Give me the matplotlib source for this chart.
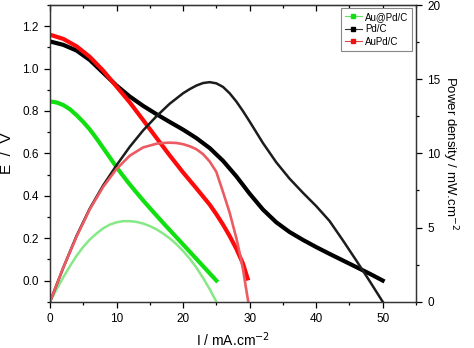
import matplotlib
matplotlib.use('Agg')
import matplotlib.pyplot as plt
from matplotlib.lines import Line2D
from matplotlib.ticker import MultipleLocator, FormatStrFormatter

plt.rcParams['font.family'] = ['Liberation Sans', 'DejaVu Sans']

# Au@Pd/C
i_green = [0, 1, 2, 3, 4, 5, 6, 7, 8, 9, 10, 11, 12, 13, 14, 15, 16, 17, 18, 19, 20, 21, 22, 23, 24, 25]
e_green = [0.845, 0.84, 0.828, 0.808, 0.78, 0.748, 0.712, 0.67, 0.625, 0.58, 0.535, 0.493, 0.453,
           0.415, 0.378, 0.342, 0.307, 0.272, 0.238, 0.204, 0.17, 0.136, 0.102, 0.068, 0.034, 0.0]
p_green = [0, 0.85, 1.65, 2.4, 3.1, 3.7, 4.2, 4.6, 4.95, 5.2, 5.35, 5.43, 5.43, 5.38, 5.27, 5.1,
           4.88, 4.6, 4.27, 3.88, 3.42, 2.9, 2.3, 1.6, 0.85, 0.0]

# Pd/C
i_black = [0, 2, 4, 6, 8, 10, 12, 14, 16, 18, 20, 22, 24, 26, 28, 30, 32, 34, 36, 38, 40, 42, 44, 46, 48, 50]
e_black = [1.128, 1.112, 1.085, 1.04, 0.98, 0.92, 0.868, 0.824, 0.785, 0.748, 0.712, 0.672, 0.625, 0.565,
           0.492, 0.41, 0.335, 0.275, 0.229, 0.192, 0.158, 0.126, 0.095, 0.064, 0.033, 0.0]
i_black_p = [0, 2, 4, 6, 8, 10, 12, 14, 16, 18, 20, 21, 22, 23, 24, 25, 26, 27, 28, 29, 30,
             32, 34, 36, 38, 40, 42, 44, 46, 48, 50]
p_black = [0, 2.3, 4.45, 6.3, 7.85, 9.2, 10.45, 11.55, 12.5, 13.35, 14.05, 14.33, 14.57, 14.74, 14.8,
           14.72, 14.48, 14.05, 13.5, 12.85, 12.15, 10.7, 9.4, 8.3, 7.35, 6.45, 5.45, 4.15, 2.8, 1.42, 0.0]

# AuPd/C
i_red = [0, 2, 4, 6, 8, 10, 12, 14, 16, 18, 20, 22, 24, 25, 26, 27, 28, 29, 29.7]
e_red = [1.16, 1.14, 1.105, 1.055, 0.99, 0.915, 0.84, 0.757, 0.673, 0.59, 0.51, 0.435, 0.358, 0.313,
         0.264, 0.21, 0.15, 0.08, 0.01]
i_red_p = [0, 2, 4, 6, 8, 10, 12, 14, 16, 17, 18, 19, 20, 21, 22, 23, 24, 25, 26, 27, 28, 28.5,
           29, 29.5, 29.8]
p_red = [0, 2.3, 4.4, 6.25, 7.75, 8.95, 9.85, 10.4, 10.65, 10.7, 10.72, 10.7, 10.62, 10.48, 10.28,
         9.95, 9.45, 8.75, 7.4, 6.0, 4.3, 3.3, 2.2, 0.8, 0.0]

labels = ['Au@Pd/C', 'Pd/C', 'AuPd/C']

fig = plt.figure(figsize=(4.74, 3.48), dpi=100)
ax = fig.add_axes([0.1055, 0.133, 0.772, 0.8526])
ax2 = ax.twinx()

# power density (right axis)
ax2.plot(i_green, p_green, color='#86e886', lw=1.8)
ax2.plot(i_black_p, p_black, color='#1c1c1c', lw=1.8)
ax2.plot(i_red_p, p_red, color='#ec5a62', lw=1.9)

# polarisation curves (left axis)
ax.plot(i_green, e_green, color='#10e010', lw=3.0, zorder=3)
ax.plot(i_black, e_black, color='black', lw=3.0, zorder=3)
ax.plot(i_red, e_red, color='#ff0a0a', lw=3.0, zorder=3)

ax.set_xlim(0, 55)
ax.set_ylim(-0.1, 1.3)
ax2.set_ylim(0, 20)

ax.xaxis.set_major_locator(MultipleLocator(10))
ax.xaxis.set_minor_locator(MultipleLocator(5))
ax.yaxis.set_major_locator(MultipleLocator(0.2))
ax.yaxis.set_minor_locator(MultipleLocator(0.1))
ax.yaxis.set_major_formatter(FormatStrFormatter('%.1f'))
ax2.yaxis.set_major_locator(MultipleLocator(5))
ax2.yaxis.set_minor_locator(MultipleLocator(2.5))

ax.tick_params(which='major', direction='out', length=4.5, width=0.9, labelsize=8.5)
ax.tick_params(which='minor', direction='out', length=2.5, width=0.9)
ax2.tick_params(which='major', direction='out', length=4.5, width=0.9, labelsize=8.5)
ax2.tick_params(which='minor', direction='out', length=2.5, width=0.9)

top = ax.secondary_xaxis('top')
top.xaxis.set_major_locator(MultipleLocator(10))
top.xaxis.set_minor_locator(MultipleLocator(5))
top.tick_params(which='major', direction='in', length=4.5, width=0.9, labeltop=False)
top.tick_params(which='minor', direction='in', length=2.5, width=0.9)

for a in (ax, ax2):
    for s in a.spines.values():
        s.set_linewidth(0.9)
        s.set_color('#333333')

ax.set_xlabel('I / mA.cm$^{-2}$', fontsize=10, labelpad=4)
ax.set_ylabel('E  /  V', fontsize=11, labelpad=6)
ax2.set_ylabel('Power density / mW.cm$^{-2}$', fontsize=9.5, rotation=270, labelpad=14)

handles = [
    Line2D([], [], color='#66dd66', lw=0.8, marker='s', markersize=2.5, markerfacecolor='#10e010', markeredgecolor='#10e010'),
    Line2D([], [], color='#333333', lw=0.8, marker='s', markersize=2.5, markerfacecolor='black', markeredgecolor='black'),
    Line2D([], [], color='#dd4444', lw=0.8, marker='s', markersize=2.5, markerfacecolor='#ee1111', markeredgecolor='#ee1111'),
]
leg = ax.legend(handles, labels, loc='upper right', bbox_to_anchor=(0.99, 0.99), borderaxespad=0,
                fontsize=7, handlelength=1.8, handletextpad=0.3, labelspacing=0.25,
                fancybox=False, framealpha=1, borderpad=0.4)
leg.get_frame().set_edgecolor('#888888')
leg.get_frame().set_linewidth(0.8)
leg.set_zorder(10)

fig.savefig('out.png', dpi=100)
